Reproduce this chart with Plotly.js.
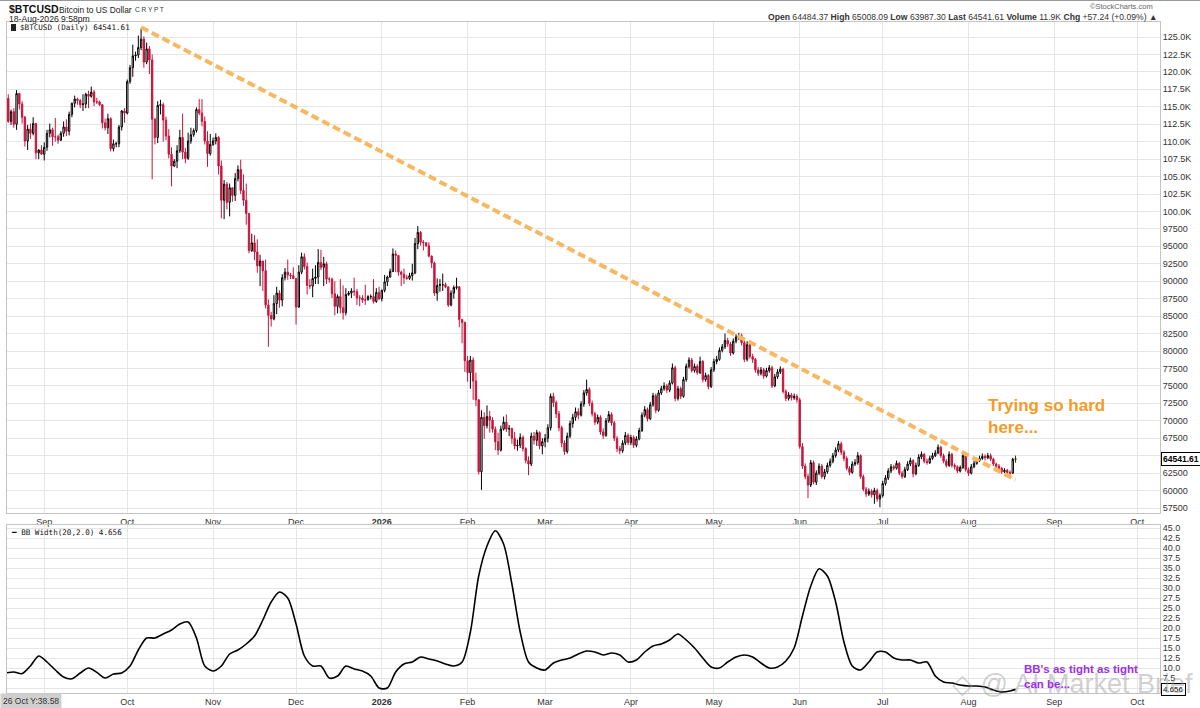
<!DOCTYPE html>
<html><head><meta charset="utf-8">
<script src="https://cdn.plot.ly/plotly-3.0.1.min.js"></script>
<style>html,body{margin:0;padding:0;background:#fff;}#chart{width:1200px;height:708px;}</style>
</head><body><div id="chart"></div>
<script>
// ---- data (prices in thousands of USD), daily from 2025-08-18 to 2026-08-18 ----
const firstOpenK = 117.4;
const closeK = [
// Aug 2025 (18-31)
116.2,112.9,114.3,112.5,116.9,115.4,113.5,110.1,111.8,111.2,112.6,108.4,108.8,108.2,
// Sep
109.2,111.2,111.7,110.7,110.7,110.2,111.2,112.1,111.5,113.9,115.5,116.1,115.9,115.3,115.4,116.8,116.5,117.1,115.7,115.7,115.3,112.7,112.0,113.3,109.0,109.7,109.7,112.1,114.4,114.1,
// Oct
118.6,120.6,122.3,122.4,123.5,124.7,121.4,123.3,121.7,113.2,110.6,115.2,115.3,113.1,110.8,108.2,106.5,107.2,108.7,110.6,108.5,107.6,110.1,111.0,111.6,114.6,114.1,112.9,110.1,108.3,109.6,
// Nov
110.1,110.6,106.5,101.6,103.9,101.3,103.4,102.3,104.7,106.0,103.0,101.6,99.7,94.4,95.5,94.2,92.2,92.9,91.5,86.6,85.1,84.6,86.8,88.3,87.3,90.5,91.3,90.9,90.8,90.4,
// Dec
86.3,91.3,93.5,92.1,89.4,89.3,90.4,90.6,92.7,92.0,92.5,90.3,90.3,88.2,86.4,87.8,86.2,85.5,88.1,88.3,88.6,88.5,87.6,87.6,87.3,87.3,87.8,87.8,87.1,88.4,87.5,
// Jan 2026
88.7,89.9,90.6,91.4,93.9,93.7,91.3,91.0,90.5,90.4,90.8,91.2,95.4,97.0,95.6,95.5,95.1,93.6,92.6,88.3,89.4,89.5,89.5,89.2,86.6,88.3,89.1,89.2,84.5,84.1,78.6,
// Feb
76.9,78.7,75.7,73.0,62.7,70.5,69.3,70.6,70.1,68.8,67.0,65.8,68.8,69.8,68.8,68.9,67.5,66.4,66.5,67.6,66.0,64.3,63.8,67.8,67.2,68.3,66.4,67.0,
// Mar
67.5,69.0,73.5,72.6,71.0,69.0,66.8,65.6,67.8,69.6,70.5,71.3,70.8,72.4,74.0,74.5,72.5,71.0,69.8,70.5,68.4,67.9,70.0,70.9,69.7,67.5,66.0,65.7,66.8,67.9,66.9,
// Apr
67.6,66.5,67.4,68.6,70.8,71.6,70.3,72.3,73.6,71.5,74.0,74.6,75.0,74.4,75.4,77.6,73.2,74.6,73.5,75.9,77.8,78.7,77.2,77.8,76.9,78.5,75.9,76.5,74.9,77.3,
// May
78.5,78.8,80.1,80.6,81.5,81.0,79.7,81.4,82.0,82.2,81.2,78.8,80.9,79.2,78.8,77.3,76.8,77.3,76.4,77.2,77.6,75.0,76.3,77.0,77.4,74.2,73.2,73.7,73.3,73.5,73.0,
// Jun
66.3,63.5,62.0,60.8,64.0,61.2,62.5,63.5,62.0,62.7,63.6,64.2,65.0,65.8,66.7,65.5,64.6,63.2,62.6,63.8,64.0,65.0,62.0,60.2,59.5,59.9,59.4,60.0,58.8,59.3,
// Jul
61.0,61.8,62.8,63.4,63.2,63.9,62.5,62.0,63.0,63.8,64.3,62.4,63.6,64.8,65.2,64.2,64.0,64.6,65.0,65.4,66.2,65.0,64.2,63.6,65.2,63.6,63.4,62.8,63.3,65.0,63.0,
// Aug 2026 (1-18)
62.5,63.4,63.9,64.3,64.6,64.9,64.7,65.0,64.5,63.8,63.5,63.2,62.7,62.9,62.6,62.5,64.48437,64.54161
];
const highK = [
117.6,116.8,114.6,114.8,117.4,117.0,115.8,113.7,112.4,112.6,113.5,112.7,108.9,109.5,
109.9,111.7,112.6,112.0,113.4,111.0,111.5,112.9,113.2,114.3,115.6,116.6,116.3,116.1,116.8,117.0,117.3,117.9,117.4,116.3,115.9,115.4,113.3,114.0,113.5,110.3,110.0,112.4,114.5,114.8,
118.9,121.0,123.9,122.9,125.2,126.2,125.1,124.2,123.7,122.5,113.4,115.8,116.0,115.6,113.6,111.8,109.2,107.5,109.5,111.7,114.0,109.1,111.3,112.0,111.9,114.9,116.1,116.1,113.6,111.5,111.1,
110.6,111.2,110.8,107.3,104.5,104.2,104.0,103.4,105.5,106.6,107.4,105.3,104.0,99.8,96.8,96.6,96.0,93.8,92.9,93.1,87.4,85.6,88.0,89.2,88.7,91.0,91.9,93.1,91.2,92.0,
90.4,92.3,94.1,94.0,92.7,90.3,91.8,92.3,94.6,94.5,93.5,92.8,90.6,90.5,90.0,88.1,90.3,89.4,89.0,88.6,89.0,90.5,88.9,88.0,88.0,89.5,88.0,88.1,90.3,89.0,89.2,
88.8,90.9,90.8,91.8,94.7,94.4,93.7,91.5,91.8,90.9,91.2,92.5,96.2,97.9,97.2,95.9,95.6,95.6,93.7,92.8,90.4,90.3,91.1,89.8,89.2,88.7,89.4,90.5,89.3,84.6,84.2,
79.3,79.3,79.1,76.9,73.1,71.5,71.2,72.2,71.4,70.5,69.2,68.3,69.3,70.6,70.9,69.4,69.0,68.4,67.3,68.2,67.9,66.2,64.9,68.3,68.4,68.7,68.5,67.5,
68.1,69.5,73.9,74.0,72.9,71.4,69.3,67.2,68.3,70.0,71.0,71.9,71.8,72.8,74.4,75.9,74.8,72.9,71.3,70.9,70.8,68.9,70.4,71.4,71.2,70.0,67.8,66.4,67.2,68.4,68.2,
68.0,67.9,67.8,69.0,71.2,72.1,71.9,72.7,74.0,73.9,74.4,75.0,75.5,75.3,75.8,78.2,77.9,75.0,74.9,76.3,78.2,79.1,79.0,78.2,78.1,79.2,78.7,76.9,76.7,77.7,
78.9,79.3,80.5,81.0,82.5,81.9,81.3,81.8,82.4,82.6,82.5,81.5,81.4,81.2,79.6,79.0,77.7,77.7,77.6,77.6,78.0,77.9,76.7,77.4,77.8,77.6,74.5,74.1,74.0,73.9,73.8,
73.3,66.8,63.9,62.4,64.4,64.3,62.9,63.9,63.8,63.1,64.0,64.6,65.4,66.2,67.1,67.0,65.8,64.9,63.5,64.2,64.5,65.5,65.2,62.3,60.5,60.3,60.2,60.4,60.3,59.6,
61.4,62.2,63.2,63.8,63.7,64.3,64.1,62.8,63.4,64.2,64.7,64.5,64.0,65.2,65.6,65.4,64.6,65.0,65.4,65.8,66.6,66.4,65.3,64.5,65.6,65.4,63.9,63.6,63.6,65.3,65.2,
63.3,63.8,64.3,64.7,65.0,65.3,65.2,65.4,65.3,64.7,64.0,63.8,63.4,63.2,63.1,62.9,64.7,65.00809
];
const lowK = [
114.7,112.7,112.4,112.0,111.7,114.6,112.6,109.3,108.8,110.4,110.9,107.5,107.5,108.1,
107.3,108.7,110.6,109.4,110.0,109.7,110.1,110.7,110.8,110.9,113.5,114.9,115.3,114.8,114.4,114.8,114.8,116.3,115.1,115.4,115.1,111.9,111.6,111.1,108.6,108.6,109.2,109.2,111.6,112.7,
113.9,118.3,119.3,121.6,122.0,123.1,120.6,121.1,119.7,104.6,109.6,109.8,113.9,110.0,110.2,107.6,103.6,106.4,106.2,108.4,107.5,106.9,107.4,109.7,110.7,111.3,113.8,112.2,109.6,106.4,108.0,
109.4,109.6,105.3,99.0,98.9,100.3,99.3,101.4,101.5,104.3,102.5,100.8,98.1,94.0,94.2,93.0,91.2,89.3,88.6,86.1,80.6,83.5,84.4,85.3,86.2,86.4,90.1,90.2,90.3,90.3,
83.8,86.2,91.0,91.7,88.1,88.9,87.7,89.6,89.6,91.6,89.3,89.6,89.8,87.6,85.1,85.4,85.4,84.5,85.1,87.9,87.6,87.9,86.6,86.4,86.9,86.6,87.3,87.4,86.8,86.9,87.3,
87.1,88.4,89.3,90.5,91.3,91.3,90.8,89.3,89.6,90.2,90.2,90.1,91.0,94.6,95.1,94.4,94.9,93.4,91.9,87.9,87.2,88.5,88.6,89.0,86.3,86.4,87.5,88.8,83.4,81.1,77.0,
75.6,74.6,73.0,72.1,62.3,60.1,67.4,68.9,68.3,68.3,65.8,65.1,65.6,68.6,68.4,67.8,66.7,65.9,65.7,66.1,65.6,63.9,62.2,63.5,66.6,66.4,65.9,65.2,
66.2,66.9,68.6,72.0,70.4,68.5,66.2,65.1,65.3,67.5,69.0,70.0,70.2,70.6,72.0,73.6,72.1,70.6,69.4,69.5,68.0,67.4,67.7,69.7,69.3,67.1,65.5,65.2,65.4,66.5,66.5,
66.5,66.1,66.2,67.2,68.4,70.5,69.9,70.1,72.0,71.1,71.3,73.7,74.3,74.0,74.1,75.2,72.8,72.9,73.1,73.3,75.6,77.5,76.9,76.9,76.6,76.7,75.5,75.6,74.5,74.7,
77.0,78.1,78.6,79.8,80.3,80.6,79.3,79.5,81.1,81.6,80.8,78.4,78.5,78.9,78.3,76.9,76.4,76.5,76.0,76.2,76.9,74.7,74.8,76.0,76.7,73.9,72.8,72.9,72.9,73.0,72.6,
66.0,63.1,61.6,58.9,60.5,60.9,60.8,62.2,61.7,61.6,62.4,63.3,63.9,64.7,65.5,65.1,64.2,62.9,62.2,62.4,63.5,63.7,61.7,59.9,59.1,59.2,59.0,58.1,58.4,57.6,
59.0,60.7,61.5,62.5,62.9,63.0,62.2,61.7,61.8,62.8,63.5,61.9,62.2,63.4,64.5,63.9,63.7,63.8,64.4,64.8,65.2,64.7,63.9,63.3,63.4,63.3,63.0,62.5,62.6,63.1,62.7,
62.1,62.3,63.2,63.7,64.1,64.4,64.3,64.5,64.2,63.5,63.2,62.9,62.4,62.5,62.3,62.2,62.4,63.98730
];
// BB Width(20,2.0), read every 3rd day from 2025-08-18, plus last value
const bbWidth = [
8.75,9.0,8.6,10.5,13.0,11.5,9.5,7.75,7.3,8.75,10.0,8.9,7.5,8.5,8.75,10.5,14.5,17.5,17.5,18.5,
19.5,21.0,21.5,17.5,10.5,9.25,10.5,13.5,14.5,16.0,18.0,22.0,26.5,29.0,27.5,21.0,13.0,10.5,10.5,7.5,
8.0,10.5,9.75,9.25,8.0,5.0,5.0,9.0,11.0,11.5,12.75,12.25,11.75,11.0,10.5,11.5,19.0,33.0,40.5,44.3,
41.0,31.0,19.0,11.5,10.0,9.5,11.25,12.0,12.5,13.5,14.25,14.0,13.25,13.75,13.25,11.5,12.0,14.0,15.5,16.0,
17.0,18.5,17.0,15.0,12.5,10.25,10.0,11.5,12.75,13.25,12.75,11.25,10.0,10.25,11.75,15.0,23.0,30.5,34.8,33.0,
26.5,16.5,10.5,9.5,11.5,14.0,14.0,12.5,12.0,12.0,11.25,11.5,8.0,6.5,6.25,5.75,5.5,5.5,5.25,4.5,
4.0,4.25
];
const bbLast = 4.656;
const trendDates = ['2025-10-06', '2026-08-18'];
const trendValues = [126400, 61550];
const monthTicks = ['2025-09-01','2025-10-01','2025-11-01','2025-12-01','2026-01-01','2026-02-01','2026-03-01','2026-04-01','2026-05-01','2026-06-01','2026-07-01','2026-08-01','2026-09-01','2026-10-01'];
const monthLabels = ['Sep','Oct','Nov','Dec','<b>2026</b>','Feb','Mar','Apr','May','Jun','Jul','Aug','Sep','Oct'];
const monthLabelsLower = ['','Oct','Nov','Dec','<b>2026</b>','Feb','Mar','Apr','May','Jun','Jul','Aug','Sep','Oct'];
const priceTicks = [57500,60000,62500,65000,67500,70000,72500,75000,77500,80000,82500,85000,87500,90000,92500,95000,97500,100000,102500,105000,107500,110000,112500,115000,117500,120000,122500,125000];
const priceLabels = ['57500','60000','62500','','67500','70000','72500','75000','77500','80000','82500','85000','87500','90000','92500','95000','97500','100.0K','102.5K','105.0K','107.5K','110.0K','112.5K','115.0K','117.5K','120.0K','122.5K','125.0K'];
const bbTicks = [5,7.5,10,12.5,15,17.5,20,22.5,25,27.5,30,32.5,35,37.5,40,42.5,45];
const bbLabels = ['','7.5','10.0','12.5','15.0','17.5','20.0','22.5','25.0','27.5','30.0','32.5','35.0','37.5','40.0','42.5','45.0'];

// ---- build ----
function dayStr(n){ return new Date(Date.UTC(2025,7,18) + n*86400000).toISOString().slice(0,10); }
const N = closeK.length;
const dates = [], o = [], h = [], l = [], c = [];
for (let i = 0; i < N; i++) {
  dates.push(dayStr(i));
  o.push((i === 0 ? firstOpenK : closeK[i-1]) * 1000);
  h.push(highK[i] * 1000); l.push(lowK[i] * 1000); c.push(closeK[i] * 1000);
}
const bbDates = bbWidth.map((v, k) => dayStr(k*3));
bbDates.push(dayStr(N-1));
const bbVals = bbWidth.concat([bbLast]);

const RED = '#c8143c';
const M = {l:7, r:40, t:22, b:15};
const W = 1200, H = 708, PW = W - M.l - M.r, PH = H - M.t - M.b;
const px = x => (x - M.l) / PW;
const py = y => (H - M.b - y) / PH;
const FONT = 'Liberation Sans, Arial, sans-serif';

const traces = [
  {type:'candlestick', x:dates.slice(0,N-1), open:o.slice(0,N-1), high:h.slice(0,N-1), low:l.slice(0,N-1), close:c.slice(0,N-1),
   xaxis:'x', yaxis:'y', whiskerwidth:0,
   increasing:{line:{color:'#000000', width:1}, fillcolor:'#ffffff'},
   decreasing:{line:{color:RED, width:1}, fillcolor:RED}, hoverinfo:'skip', showlegend:false},
  {type:'candlestick', x:dates.slice(N-1), open:o.slice(N-1), high:h.slice(N-1), low:l.slice(N-1), close:c.slice(N-1),
   xaxis:'x', yaxis:'y', whiskerwidth:0,
   increasing:{line:{color:'#333300', width:1}, fillcolor:'#ffe840'},
   decreasing:{line:{color:'#333300', width:1}, fillcolor:'#ffe840'}, hoverinfo:'skip', showlegend:false},
  {type:'scatter', mode:'lines', x:trendDates, y:trendValues, xaxis:'x', yaxis:'y',
   line:{color:'#f7b861', width:4, dash:'8px,4px'}, hoverinfo:'skip', showlegend:false},
  {type:'scatter', mode:'lines', x:bbDates, y:bbVals, xaxis:'x2', yaxis:'y2',
   line:{color:'#000000', width:1.6, shape:'spline', smoothing:0.8}, hoverinfo:'skip', showlegend:false}
];

const xCommon = {type:'date', range:['2025-08-18 13:00','2026-10-09 05:00'], tickvals:monthTicks,
  showgrid:true, gridcolor:'#e6e6e6', gridwidth:1, zeroline:false, ticks:'', showline:true, linecolor:'#c4c4c4', mirror:true,
  tickfont:{family:FONT, size:9, color:'#333'}, fixedrange:true, rangeslider:{visible:false}};

const layout = {
  width:W, height:H, margin:M, paper_bgcolor:'#ffffff', plot_bgcolor:'#ffffff', showlegend:false, hovermode:false,
  xaxis:Object.assign({}, xCommon, {anchor:'y', domain:[0,1], ticktext:monthLabels}),
  xaxis2:Object.assign({}, xCommon, {anchor:'y2', domain:[0,1], matches:'x', ticktext:monthLabelsLower}),
  yaxis:{domain:[py(513),1], range:[56783,127150], side:'right', tickvals:priceTicks, ticktext:priceLabels,
    showgrid:true, gridcolor:'#e6e6e6', zeroline:false, showline:true, linecolor:'#c4c4c4', mirror:true, ticks:'',
    tickfont:{family:FONT, size:9, color:'#333'}, fixedrange:true},
  yaxis2:{domain:[0,py(525)], range:[3.75,45.75], side:'right', tickvals:bbTicks, ticktext:bbLabels,
    showgrid:true, gridcolor:'#e6e6e6', zeroline:false, showline:true, linecolor:'#c4c4c4', mirror:true, ticks:'',
    tickfont:{family:FONT, size:9, color:'#333'}, fixedrange:true},
  shapes:[
    {type:'line', xref:'paper', yref:'paper', x0:px(0), x1:px(1200), y0:py(0.5), y1:py(0.5), line:{color:'#999', width:1}},
    {type:'rect', xref:'paper', yref:'paper', x0:px(11), x1:px(16), y0:py(31), y1:py(24), fillcolor:'#222', line:{width:0}}
  ],
  annotations:[
    {xref:'paper', yref:'paper', x:px(7), y:py(9.5), xanchor:'left', yanchor:'middle', showarrow:false,
     text:'<b>$BTCUSD</b>', font:{family:FONT, size:10.5, color:'#111'}},
    {xref:'paper', yref:'paper', x:px(57), y:py(10), xanchor:'left', yanchor:'middle', showarrow:false,
     text:'Bitcoin to US Dollar', font:{family:FONT, size:8.4, color:'#222'}},
    {xref:'paper', yref:'paper', x:px(133), y:py(10), xanchor:'left', yanchor:'middle', showarrow:false,
     text:'C R Y P T', font:{family:FONT, size:6.5, color:'#333'}},
    {xref:'paper', yref:'paper', x:px(7), y:py(19.5), xanchor:'left', yanchor:'middle', showarrow:false,
     text:'18-Aug-2026 9:58pm', font:{family:FONT, size:8.6, color:'#222'}},
    {xref:'paper', yref:'paper', x:px(18), y:py(27.5), xanchor:'left', yanchor:'middle', showarrow:false,
     text:'$BTCUSD (Daily) 64541.61', font:{family:'DejaVu Sans Mono, monospace', size:7.6, color:'#111'}},
    {xref:'paper', yref:'paper', x:px(1155), y:py(6.5), xanchor:'right', yanchor:'middle', showarrow:false,
     text:'©StockCharts.com', font:{family:FONT, size:7.5, color:'#666'}},
    {xref:'paper', yref:'paper', x:px(1159), y:py(17), xanchor:'right', yanchor:'middle', showarrow:false,
     text:'<b>Open</b> 64484.37 <b>High</b> 65008.09 <b>Low</b> 63987.30 <b>Last</b> 64541.61 <b>Volume</b> 11.9K <b>Chg</b> +57.24 (+0.09%) ▲',
     font:{family:FONT, size:8.6, color:'#333'}},
    {xref:'paper', yref:'paper', x:px(9), y:py(532), xanchor:'left', yanchor:'middle', showarrow:false,
     text:'<b>━</b> BB Width(20,2.0) 4.656', font:{family:'DejaVu Sans Mono, monospace', size:7.6, color:'#111'}},
    {xref:'paper', yref:'paper', x:px(0), y:py(700.5), xanchor:'left', yanchor:'middle', showarrow:false,
     text:'26 Oct Y:38.58', bgcolor:'#cfcfcf', borderpad:2, font:{family:FONT, size:8.5, color:'#333'}},
    {xref:'paper', yref:'y', x:px(1161), y:c[N-1], xanchor:'left', yanchor:'middle', showarrow:false,
     text:'<b>64541.61</b>', bgcolor:'#ffffff', bordercolor:'#000', borderwidth:1, borderpad:1, font:{family:FONT, size:8.5, color:'#000'}},
    {xref:'paper', yref:'y2', x:px(1161), y:bbLast, xanchor:'left', yanchor:'middle', showarrow:false,
     text:'4.656', bgcolor:'#ffffff', bordercolor:'#000', borderwidth:1, borderpad:1, font:{family:FONT, size:8, color:'#000'}},
    {xref:'paper', yref:'paper', x:px(986), y:py(394), xanchor:'left', yanchor:'top', align:'left', showarrow:false,
     text:'<b>Trying so hard<br>here...</b>', font:{family:FONT, size:17, color:'#f39c27'}},
    {xref:'paper', yref:'paper', x:px(1195), y:py(684), xanchor:'right', yanchor:'middle', showarrow:false,
     text:'◇ @ AI Market Brief', font:{family:FONT, size:27, color:'rgba(150,150,150,0.45)'}},
    {xref:'paper', yref:'paper', x:px(1022), y:py(661), xanchor:'left', yanchor:'top', align:'left', showarrow:false,
     text:'<b>BB\'s as tight as tight<br>can be...</b>', font:{family:FONT, size:11.5, color:'#9b30e8'}}
  ]
};

Plotly.newPlot('chart', traces, layout, {displayModeBar:false, staticPlot:true});
</script>
</body></html>
